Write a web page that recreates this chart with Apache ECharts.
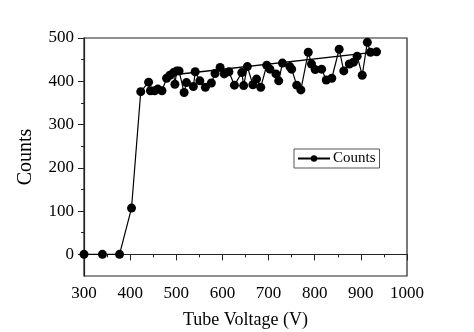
<!DOCTYPE html>
<html><head><meta charset="utf-8">
<script src="https://cdn.jsdelivr.net/npm/echarts@6/dist/echarts.min.js"></script>
<style>html,body{margin:0;padding:0;background:#fff}#c{width:474px;height:332px}</style>
</head><body><div id="c"></div>
<script>
const voltage = [300,340,377,403,423,440,444,453,460,469,479,486,494,497,501,506,517,522,537,541,551,563,576,584,595,604,614,626,642,646,654,666,674,683,696,703,716,722,730,746,750,761,770,786,793,801,815,825,837,853,863,875,884,892,903,914,921,934];
const counts  = [0,0,0,107,376,398,378,378,382,378,407,414,420,393,424,424,374,397,388,422,401,386,396,418,432,417,422,391,420,390,434,392,405,386,437,428,417,401,442,434,428,391,380,467,440,427,428,403,407,474,424,440,444,458,414,490,467,468];
const fitVoltage = [495, 935];
const fitCounts = [415, 468];
const xTicks = [300,400,500,600,700,800,900,1000];
const yTicks = [0,100,200,300,400,500];
const yMinor = [50,150,250,350,450];

const font = '"Liberation Serif","Times New Roman",serif';
const chart = echarts.init(document.getElementById('c'));
chart.setOption({
  animation: false,
  backgroundColor: '#fff',
  grid: {left: 84, right: 67, top: 38, bottom: 56, outerBoundsMode: 'none', containLabel: false, show: true, borderColor: '#222', borderWidth: 1.2, backgroundColor: 'transparent'},
  legend: {
    data: ['Counts'],
    left: 294, top: 149,
    padding: [2, 4, 2, 3],
    borderColor: '#555', borderWidth: 1,
    itemWidth: 32, itemHeight: 8, itemGap: 2,
    textStyle: {fontFamily: font, fontSize: 15, color: '#000', padding: [0, 0, 0, -2]}
  },
  xAxis: {
    type: 'value', min: 300, max: 1000, interval: 100,
    name: 'Tube Voltage (V)', nameLocation: 'middle', nameGap: 35,
    nameTextStyle: {fontFamily: font, fontSize: 18, color: '#000'},
    axisLine: {lineStyle: {color: '#222', width: 1.2}},
    axisTick: {show: true, inside: false, length: 6, lineStyle: {color: '#222'}},
    minorTick: {show: true, splitNumber: 2, length: 3, lineStyle: {color: '#222'}},
    splitLine: {show: false},
    axisLabel: {fontFamily: font, fontSize: 17, color: '#000', margin: 9, formatter: v => String(v)}
  },
  yAxis: [{
    type: 'value', min: -50, max: 500,
    name: 'Counts', nameLocation: 'middle', nameGap: 48,
    nameTextStyle: {fontFamily: font, fontSize: 20, color: '#000'},
    axisLine: {show: true, lineStyle: {color: '#222', width: 1.2}},
    axisTick: {show: true, length: 6, customValues: yTicks, lineStyle: {color: '#222'}},
    splitLine: {show: false},
    axisLabel: {fontFamily: font, fontSize: 17, color: '#000', margin: 10, customValues: yTicks}
  }, {
    type: 'value', min: -50, max: 500, position: 'left',
    axisLine: {show: false},
    axisTick: {show: true, length: 3, customValues: yMinor, lineStyle: {color: '#222'}},
    axisLabel: {show: false},
    splitLine: {show: false}
  }],
  series: [{
    name: 'Counts', type: 'line', yAxisIndex: 0,
    data: voltage.map((v, i) => [v, counts[i]]),
    symbol: 'circle', symbolSize: 9,
    itemStyle: {color: '#000'},
    lineStyle: {color: '#000', width: 1.2},
    z: 3
  }, {
    name: 'fit', type: 'line', yAxisIndex: 0,
    data: fitVoltage.map((v, i) => [v, fitCounts[i]]),
    symbol: 'none',
    lineStyle: {color: '#000', width: 1.4},
    z: 2
  }]
});
</script></body></html>
